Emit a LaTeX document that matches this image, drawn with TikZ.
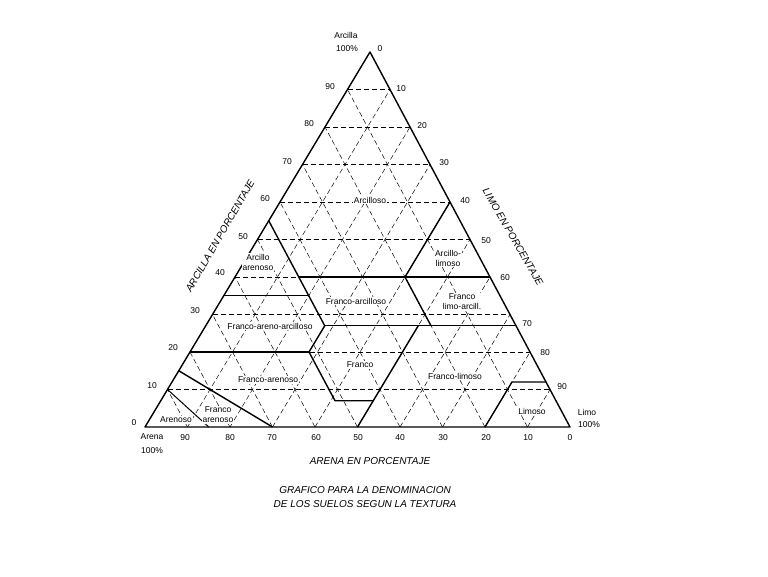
\documentclass[tikz,border=0pt]{standalone}
\usepackage{fontspec}
\setmainfont{Liberation Sans}
\begin{document}
\begin{tikzpicture}[x=1pt,y=-1pt,
  gridl/.style={dash pattern=on 5pt off 3pt, line width=0.5pt},
  bound/.style={line width=1.4pt, line join=round},
  lab/.style={font=\fontsize{8.5}{10}\selectfont, align=center, inner sep=1pt, fill=white},
  tick/.style={font=\fontsize{8.5}{10}\selectfont, inner sep=0pt},
  ttl/.style={font=\fontsize{10}{11}\selectfont\itshape}]
\useasboundingbox (0,0) rectangle (768,576);
\def\tp#1#2{({145+4.25*(#2)+2.25*(#1)},{427-3.75*(#1)})}
% grid
\foreach \k in {10,20,...,90}{
  \draw[gridl] \tp{\k}{0} -- \tp{\k}{100-\k};
  \draw[gridl] \tp{0}{\k} -- \tp{100-\k}{\k};
  \draw[gridl] \tp{0}{100-\k} -- \tp{100-\k}{0};
}
% outline
\path \tp{0}{0} coordinate (A);
\path \tp{0}{100} coordinate (B);
\path \tp{100}{0} coordinate (C);
\draw[bound] (A) -- (B) -- (C) -- cycle;
% boundaries
\draw[bound] \tp{55}{0} -- \tp{27}{28} -- \tp{20}{28} -- \tp{7}{41} -- \tp{7}{50};
\draw[bound] \tp{60}{40} -- \tp{40}{40} -- \tp{27}{53};
\draw[bound] \tp{40}{15} -- \tp{40}{60};
\draw[bound] \tp{35}{0} -- \tp{35}{20};
\draw[bound] \tp{27}{28} -- \tp{27}{73};
\draw[bound] \tp{20}{0} -- \tp{20}{28};
\draw[bound] \tp{27}{50} -- \tp{0}{50};
\draw[bound] \tp{0}{80} -- \tp{12}{80} -- \tp{12}{88};
\draw[bound] \tp{15}{0} -- \tp{0}{30};
\draw[line width=1pt] \tp{10}{0} -- \tp{0}{15};
% class labels
\node[lab] (l1) at (370,200) {Arcilloso};
\node[lab] (l2) at (258,262) {Arcillo\\arenoso};
\node[lab] (l3) at (448,258) {Arcillo-\\limoso};
\node[lab] (l4) at (356,301) {Franco-arcilloso};
\node[lab] (l5) at (462,302) {Franco\\limo-arcill.};
\node[lab] (l6) at (270,326) {Franco-areno-arcilloso};
\node[lab] (l7) at (360,365) {Franco};
\node[lab] (l8) at (455,376) {Franco-limoso};
\node[lab] (l9) at (268,380) {Franco-arenoso};
\node[lab] (l10) at (218,415) {Franco\\arenoso};
\node[lab] (l11) at (176,420) {Arenoso};
\node[lab] (l12) at (532,411) {Limoso};
% left ticks
\node[tick] (c0) at (134,423) {0};
\node[tick] (c1) at (152,386) {10};
\node[tick] (c2) at (173,348) {20};
\node[tick] (c3) at (195,311) {30};
\node[tick] (c4) at (220,273) {40};
\node[tick] (c5) at (243,237) {50};
\node[tick] (c6) at (265,199) {60};
\node[tick] (c7) at (287,162) {70};
\node[tick] (c8) at (309,124) {80};
\node[tick] (c9) at (330,87) {90};
\node[tick] (c10) at (347,49) {100\%};
\node[tick] (ca) at (346,35) {Arcilla};
\node[tick] (c00) at (380,49) {0};
% right ticks
\node[tick] (s1) at (401,89) {10};
\node[tick] (s2) at (422,126) {20};
\node[tick] (s3) at (444,163) {30};
\node[tick] (s4) at (465,201) {40};
\node[tick] (s5) at (486,241) {50};
\node[tick] (s6) at (505,278) {60};
\node[tick] (s7) at (527,324) {70};
\node[tick] (s8) at (545,353) {80};
\node[tick] (s9) at (562,387) {90};
\node[tick] (sl) at (587,412) {Limo};
\node[tick] (sp) at (589,425) {100\%};
% bottom ticks
\node[tick] (a9) at (185,438) {90};
\node[tick] (a8) at (230,438) {80};
\node[tick] (a7) at (272,438) {70};
\node[tick] (a6) at (316,438) {60};
\node[tick] (a5) at (358,438) {50};
\node[tick] (a4) at (400,438) {40};
\node[tick] (a3) at (443,438) {30};
\node[tick] (a2) at (486,438) {20};
\node[tick] (a1) at (528,438) {10};
\node[tick] (a0) at (570,438) {0};
\node[tick] (an) at (152,437) {Arena};
\node[tick] (ap) at (152,451) {100\%};
% titles
\node[ttl, rotate=60] (t1) at (220,236) {ARCILLA EN PORCENTAJE};
\node[ttl, rotate=-60] (t2) at (513,237) {LIMO EN PORCENTAJE};
\node[ttl] (t3) at (370,461) {ARENA EN PORCENTAJE};
\node[ttl, align=center, font=\fontsize{10}{14}\selectfont\itshape] (cap) at (365,497) {GRAFICO PARA LA DENOMINACION\\DE LOS SUELOS SEGUN LA TEXTURA};
\end{tikzpicture}
\end{document}
